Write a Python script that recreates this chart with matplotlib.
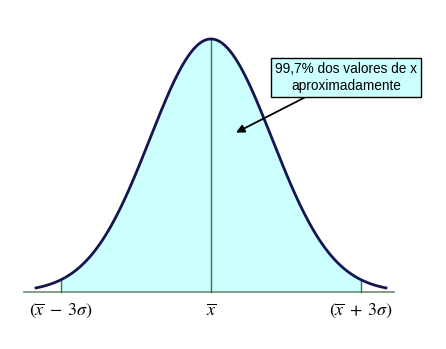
import numpy as np
import matplotlib
matplotlib.use('Agg')
import matplotlib.pyplot as plt

plt.rcParams['font.family'] = ['Liberation Sans', 'DejaVu Sans']
plt.rcParams['mathtext.fontset'] = 'stix'

# curve in units of the tick spacing (ticks at -3, 0, 3)
mu = 0.0
sd = 1.22
x_ends = [-3.5, 3.5]
tick_pos = [-3, 0, 3]
tick_labels = [r'$(\overline{x}\;-\;3\sigma)$', r'$\overline{x}$', r'$(\overline{x}\;+\;3\sigma)$']
box_text = "99,7% dos valores de x\naproximadamente"

x = np.linspace(x_ends[0], x_ends[1], 400)
y = np.exp(-(x - mu) ** 2 / (2 * sd ** 2))

fig = plt.figure(figsize=(4.46, 3.49), dpi=100)
ax = fig.add_axes([0, 0, 1, 1])
ax.set_xlim(-4.22, 4.7)
ax.set_ylim(-0.225, 1.154)
ax.axis('off')

m = (x >= tick_pos[0]) & (x <= tick_pos[-1])
ax.fill_between(x[m], 0, y[m], color='#ccffff', lw=0)
ax.plot([-3.74, 3.66], [0, 0], color='#6e8f6e', lw=1.2)
for t in tick_pos:
    ax.plot([t, t], [0, np.exp(-(t - mu) ** 2 / (2 * sd ** 2))], color='#3f6f4f', lw=1.0)
ax.plot(x, y, color='#141450', lw=2)

for t, lab in zip(tick_pos, tick_labels):
    ax.text(t, -0.075, lab, ha='center', va='center', fontsize=13)

ax.annotate(box_text, xy=(0.5, 0.63), xytext=(2.7, 0.848),
            ha='center', va='center', fontsize=9.8, linespacing=1.3,
            bbox=dict(boxstyle='square,pad=0.3', fc='#ccffff', ec='black', lw=1),
            arrowprops=dict(arrowstyle='-|>', color='black', lw=1.3,
                            mutation_scale=12, shrinkA=0, shrinkB=0,
                            relpos=(0.27, 0.0)))

fig.savefig('out.png', dpi=100)
